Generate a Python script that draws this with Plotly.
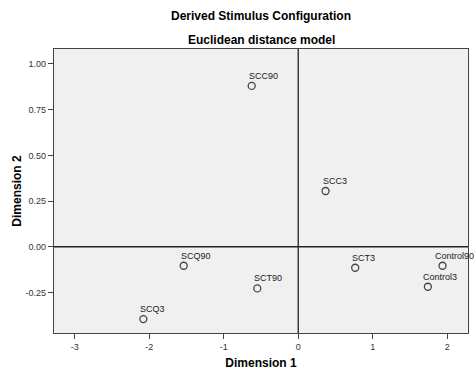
import plotly.graph_objects as go

labels = ["SCC90", "SCC3", "SCQ90", "SCT90", "SCQ3", "SCT3", "Control90", "Control3"]
dim1 = [-0.625, 0.367, -1.538, -0.55, -2.08, 0.765, 1.938, 1.741]
dim2 = [0.88, 0.305, -0.104, -0.228, -0.396, -0.115, -0.104, -0.219]

x_ticks = [-3, -2, -1, 0, 1, 2]
y_ticks = [-0.25, 0.0, 0.25, 0.5, 0.75, 1.0]
y_ticktext = ["-0.25", "0.00", "0.25", "0.50", "0.75", "1.00"]

font = "Liberation Sans, Arial, sans-serif"

# label offset (pixels) relative to the marker
label_shift = {"Control90": -10, "Control3": -7}

fig = go.Figure()
fig.add_trace(go.Scatter(
    x=dim1, y=dim2, mode="markers",
    marker=dict(symbol="circle-open", size=7, color="#444444", line=dict(width=1.3)),
    hoverinfo="text", text=labels, showlegend=False,
))

annotations = []
for lab, x, y in zip(labels, dim1, dim2):
    annotations.append(dict(
        x=x, y=y, xref="x", yref="y", text=lab, showarrow=False,
        xanchor="left", yanchor="bottom", xshift=label_shift.get(lab, -5), yshift=3,
        font=dict(family=font, size=9, color="#222222"),
    ))

annotations.append(dict(
    x=0.5, y=1.116, xref="paper", yref="paper", text="<b>Derived Stimulus Configuration</b>",
    showarrow=False, xanchor="center", yanchor="middle",
    font=dict(family=font, size=12, color="#000000"),
))
annotations.append(dict(
    x=0.5, y=1.032, xref="paper", yref="paper", text="<b>Euclidean distance model</b>",
    showarrow=False, xanchor="center", yanchor="middle",
    font=dict(family=font, size=12, color="#000000"),
))

fig.update_layout(
    width=474, height=379,
    margin=dict(l=54, r=6, t=49, b=46, autoexpand=False),
    paper_bgcolor="white",
    plot_bgcolor="#f0f0f0",
    annotations=annotations,
    shapes=[
        dict(type="line", xref="x", yref="paper", x0=0, x1=0, y0=0, y1=1,
             line=dict(color="#222222", width=1.3)),
        dict(type="line", xref="paper", yref="y", x0=0, x1=1, y0=0, y1=0,
             line=dict(color="#222222", width=1.3)),
    ],
)

fig.update_xaxes(
    range=[-3.28, 2.28], tickvals=x_ticks, ticktext=[str(v) for v in x_ticks],
    showgrid=False, zeroline=False, showline=True, linecolor="#444444", linewidth=1.3, mirror=True,
    ticks="outside", ticklen=5, tickcolor="#444444", automargin=False,
    tickfont=dict(family=font, size=9, color="#333333"),
    title=dict(text="<b>Dimension 1</b>", font=dict(family=font, size=12, color="#000000"), standoff=7),
)
fig.update_yaxes(
    range=[-0.472, 1.082], tickvals=y_ticks, ticktext=y_ticktext,
    showgrid=False, zeroline=False, showline=True, linecolor="#444444", linewidth=1.3, mirror=True,
    ticks="outside", ticklen=5, tickcolor="#444444", automargin=False,
    tickfont=dict(family=font, size=9, color="#333333"),
    title=dict(text="<b>Dimension 2</b>", font=dict(family=font, size=12, color="#000000"), standoff=1),
)

fig.write_html(
    "out.html",
    config={"displayModeBar": False},
    post_script="document.body.style.margin='0';document.body.style.overflow='hidden';",
)
